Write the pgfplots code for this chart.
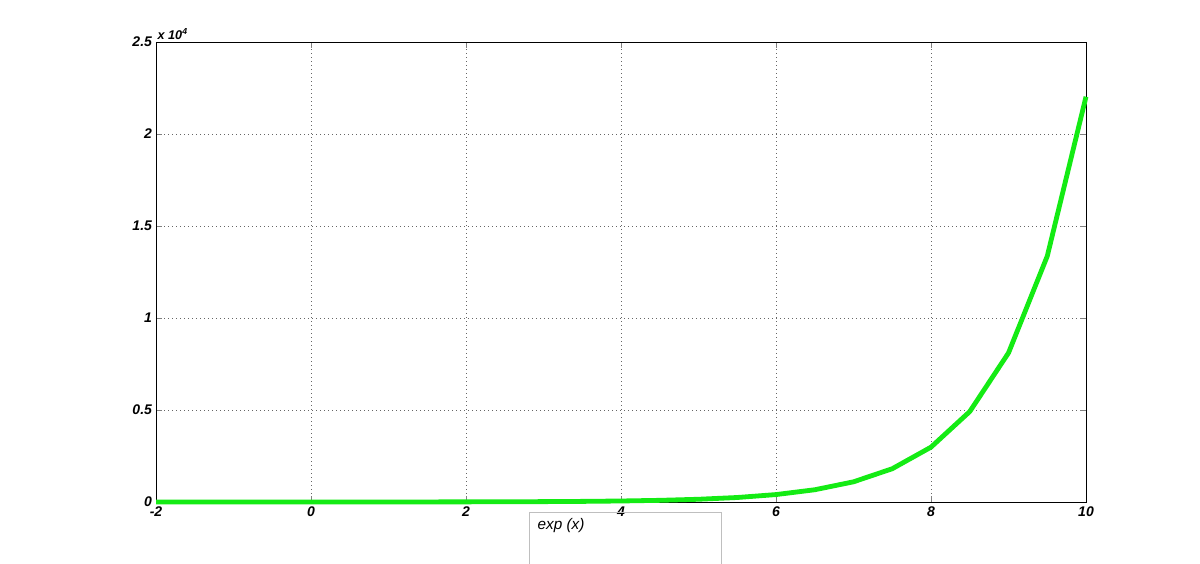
\documentclass[border=0pt]{standalone}
\usepackage{fontspec}
\setmainfont{Liberation Sans}
\usepackage{pgfplots}
\pgfplotsset{compat=1.18}
\definecolor{mgreen}{RGB}{20,235,20}
\begin{document}
\begin{tikzpicture}
\fill[white] (0,0) rectangle (900pt,423pt);
\path[use as bounding box, clip] (0,0) rectangle (900pt,423pt);
\begin{axis}[
    at={(117pt,46.5pt)}, anchor=south west,
    scale only axis, width=697.5pt, height=345pt,
    xmin=-2, xmax=10, ymin=0, ymax=25000,
    xtick={-2,0,...,10},
    ytick={0,5000,10000,15000,20000,25000},
    yticklabels={0,0.5,1,1.5,2,2.5},
    scaled y ticks=false,
    tick align=inside,
    major tick length=4.5pt,
    axis line style={black, line width=0.6pt},
    grid=major,
    major grid style={dash pattern=on 0.75pt off 2.25pt, black!60, line width=0.6pt},
    /pgf/number format/assume math mode=true,
    tick label style={font=\fontsize{10.5}{12}\selectfont\bfseries\itshape},
    xticklabel style={yshift=0pt},
    yticklabel style={xshift=0.5pt},
    clip=false,
]
\addplot[mgreen, line width=3.6pt] coordinates {
    (-2,0.1353) (-1.5,0.2231) (-1,0.3679) (-0.5,0.6065) (0,1)
    (0.5,1.6487) (1,2.7183) (1.5,4.4817) (2,7.3891) (2.5,12.1825)
    (3,20.0855) (3.5,33.1155) (4,54.5982) (4.5,90.0171) (5,148.4132)
    (5.5,244.6919) (6,403.4288) (6.5,665.1416) (7,1096.6332) (7.5,1808.0424)
    (8,2980.958) (8.5,4914.7688) (9,8103.0839) (9.5,13359.7268) (10,22026.4658)
};
\node[anchor=south west, inner sep=0pt, font=\fontsize{9.5}{11}\selectfont\bfseries\itshape]
    at (rel axis cs:0,1) [yshift=1.5pt, xshift=1pt] {x 10\textsuperscript{\fontsize{6.5}{7}\selectfont 4}};
\end{axis}
\draw[black!25, line width=0.5pt] (396.75pt,-10pt) rectangle (540.75pt,39pt);
\node[anchor=base west, inner sep=0pt, font=\fontsize{11.5}{13}\selectfont\itshape] at (403pt,25.5pt) {exp (x)};
\end{tikzpicture}
\end{document}
